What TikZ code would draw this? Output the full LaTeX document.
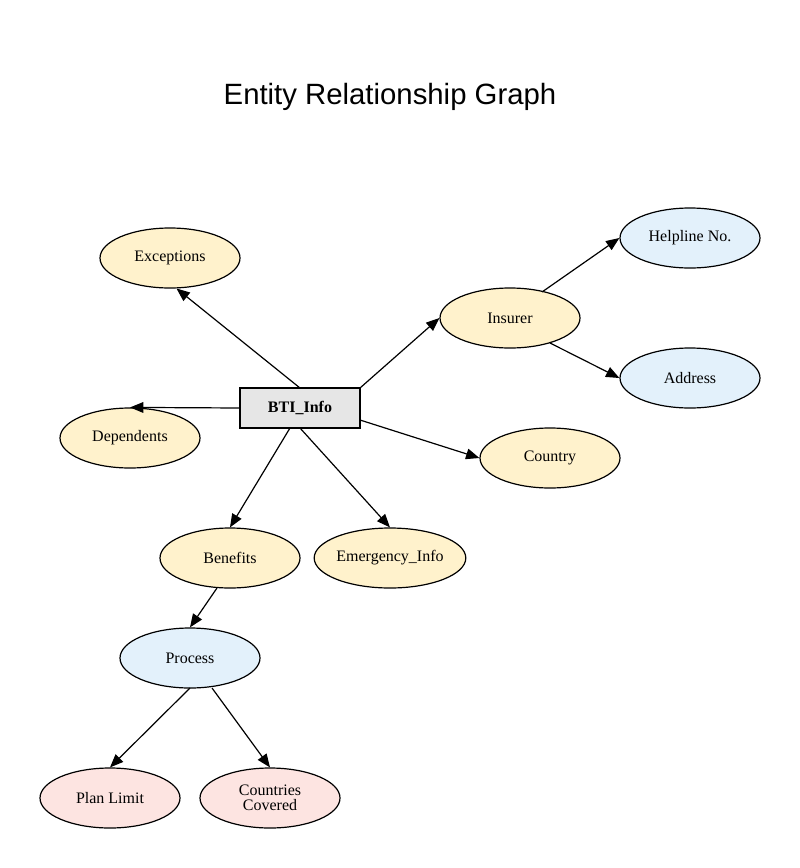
\documentclass[tikz,border=0pt]{standalone}
\usepackage{fontspec}
\setmainfont{Liberation Serif}
\newfontfamily\titlefont{Liberation Sans}
\usetikzlibrary{shapes.geometric,arrows.meta}
\definecolor{ylw}{HTML}{FFF2CC}
\definecolor{blu}{HTML}{E3F1FB}
\definecolor{pnk}{HTML}{FDE4E1}
\definecolor{gry}{HTML}{E6E6E6}
\tikzset{
  ent/.style={ellipse,draw,line width=0.9pt,minimum width=105pt,minimum height=45pt,inner sep=0pt,font=\fontsize{12}{13}\selectfont,align=center},
  yl/.style={ent,fill=ylw},
  bl/.style={ent,fill=blu},
  pk/.style={ent,fill=pnk},
  arr/.style={-{Triangle[length=10pt,width=8pt]},line width=0.9pt}
}
\begin{document}
\begin{tikzpicture}[x=0.75pt,y=-0.75pt]
\useasboundingbox (0,0) rectangle (800,868);
\node[font=\titlefont\fontsize{22}{26}\selectfont] (title) at (390,97) {Entity Relationship Graph};
\node[draw,fill=gry,line width=0.9pt,minimum width=90pt,minimum height=30pt,font=\bfseries\fontsize{12}{13}\selectfont] (bti) at (300,408) {BTI\_Info};
\node[yl] (exc) at (170,258) {Exceptions};
\node[bl] (help) at (690,238) {Helpline No.};
\node[yl] (ins) at (510,318) {Insurer};
\node[bl] (addr) at (690,378) {Address};
\node[yl] (dep) at (130,438) {Dependents};
\node[yl] (cty) at (550,458) {Country};
\node[yl] (ben) at (230,558) {Benefits};
\node[yl] (emg) at (390,558) {Emergency\_Info};
\node[bl] (proc) at (190,658) {Process};
\node[pk] (plan) at (110,798) {Plan Limit};
\node[pk] (cc) at (270,798) {Countries\\[-2pt]Covered};
\coordinate (btiExc) at (300,388);
\coordinate (btiIns) at (360,388);
\coordinate (btiDep) at (240,408);
\coordinate (btiCty) at (360,420);
\coordinate (btiBen) at (290,428);
\coordinate (btiEmg) at (300,428);
\coordinate (insHelp) at (542,292);
\coordinate (insAddr) at (550,343);
\coordinate (benProc) at (217,588);
\coordinate (procPlan) at (190,688);
\coordinate (procCC) at (212,688);
\draw[arr] (btiExc) -- (exc.282);
\draw[arr] (btiIns) -- (ins.west);
\draw[arr] (btiDep) -- (dep.north);
\draw[arr] (btiCty) -- (cty.west);
\draw[arr] (btiBen) -- (ben.north);
\draw[arr] (btiEmg) -- (emg.north);
\draw[arr] (insHelp) -- (help.west);
\draw[arr] (insAddr) -- (addr.west);
\draw[arr] (benProc) -- (proc.north);
\draw[arr] (procPlan) -- (plan.north);
\draw[arr] (procCC) -- (cc.north);
\end{tikzpicture}
\end{document}
